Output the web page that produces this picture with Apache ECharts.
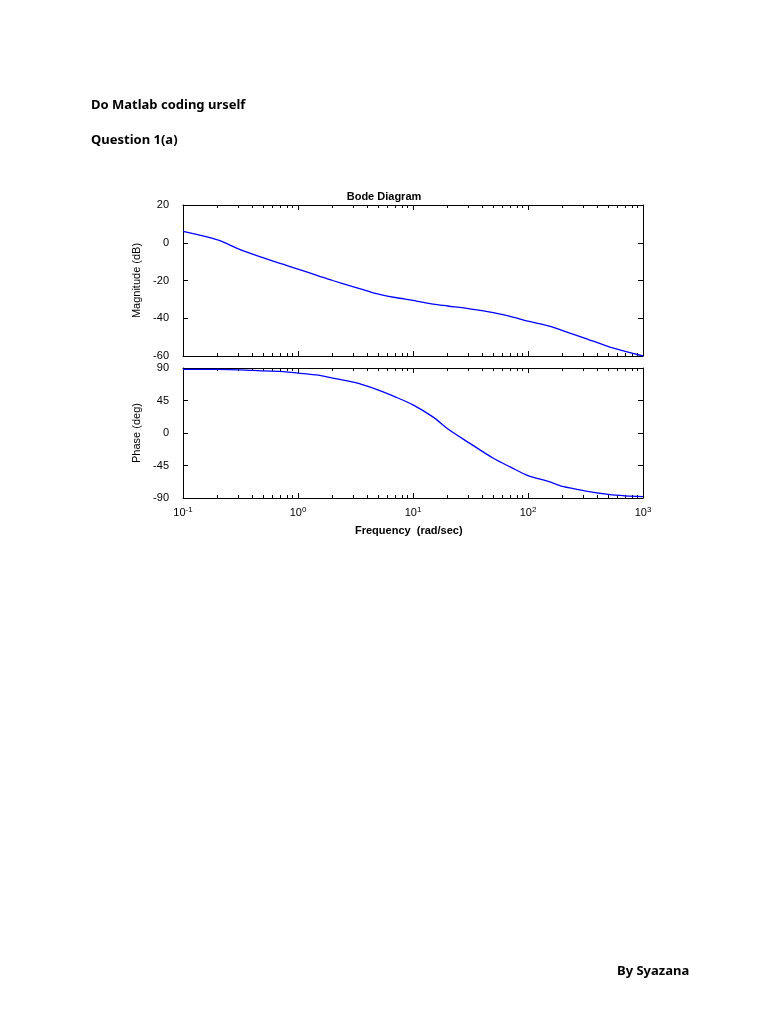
<!DOCTYPE html>
<html>
<head>
<meta charset="utf-8"/>
<style>
html,body{margin:0;padding:0;background:#fff;}
#chart{width:768px;height:1024px;}
</style>
</head>
<body>
<div id="chart"></div>
<script src="https://cdn.jsdelivr.net/npm/echarts@6/dist/echarts.min.js"></script>
<script>
// frequencies (rad/sec)
var freq = [0.1, 0.2, 0.31, 0.5, 0.75, 1, 1.5, 2, 3.1, 4.5, 7, 10, 15, 20, 31, 50, 70, 100, 150, 200, 310, 500, 700, 1000];
var magDb = [6, 1.5, -3.5, -8, -11.5, -14, -17.5, -20, -23.5, -26.5, -29, -30.5, -32.5, -33.5, -35, -37, -39, -41.5, -44, -46.5, -50.5, -55, -57.5, -60];
var phaseDeg = [88, 88, 87.5, 86, 85, 83, 80, 76, 70, 62, 50, 39, 22, 6, -14, -35, -47, -59, -67, -74, -80, -85, -87, -88];
var magTicks = [-60, -40, -20, 0, 20];
var phaseTicks = [-90, -45, 0, 45, 90];

var txt = {color: '#000', fontFamily: 'Liberation Sans', fontSize: 11};
function pairs(ys) { return freq.map(function (f, i) { return [f, ys[i]]; }); }
function xAx(grid, pos, showLabel) {
  return {
    type: 'log', logBase: 10, min: 0.1, max: 1000, gridIndex: grid, position: pos,
    axisLine: {onZero: false, lineStyle: {color: '#000'}},
    axisTick: {inside: true, length: 5, lineStyle: {color: '#000'}},
    minorTick: {show: true, splitNumber: 9, length: 3, lineStyle: {color: '#000'}},
    splitLine: {show: false},
    axisLabel: {show: showLabel, margin: 8, formatter: function (v) {
      return '{b|10}{s|' + Math.round(Math.log10(v)) + '}';
    }, rich: {b: {fontSize: 11, fontFamily: 'Liberation Sans', color: '#000'}, s: {fontSize: 8, fontFamily: 'Liberation Sans', color: '#000', verticalAlign: 'top', padding: [0, 0, 6, 0]}}}
  };
}
function yAx(grid, pos, lo, hi, step, name, showLabel) {
  return {
    type: 'value', min: lo, max: hi, interval: step, gridIndex: grid, position: pos,
    name: showLabel ? name : '', nameLocation: 'middle', nameGap: 36,
    nameTextStyle: {color: '#000', fontFamily: 'Liberation Sans', fontSize: 11},
    axisLine: {show: true, lineStyle: {color: '#000'}},
    axisTick: {inside: true, length: 5, lineStyle: {color: '#000'}},
    splitLine: {show: false},
    axisLabel: Object.assign({show: showLabel, margin: 14}, txt)
  };
}
var chart = echarts.init(document.getElementById('chart'));
chart.setOption({
  animation: false,
  backgroundColor: '#fff',
  title: [
    {text: 'Do Matlab coding urself', left: 86, top: 94, textStyle: {fontFamily: 'Noto Sans', fontSize: 13, fontWeight: 'bold', color: '#000'}},
    {text: 'Question 1(a)', left: 86, top: 129, textStyle: {fontFamily: 'Noto Sans', fontSize: 13, fontWeight: 'bold', color: '#000'}},
    {text: 'Bode Diagram', left: 'center', top: 186, textStyle: {fontFamily: 'Liberation Sans', fontSize: 11, fontWeight: 'bold', color: '#000'}},
    {text: 'By Syazana', left: 612, top: 960, textStyle: {fontFamily: 'Noto Sans', fontSize: 13, fontWeight: 'bold', color: '#000'}}
  ],
  graphic: [{type: 'text', left: 355, top: 525, style: {text: 'Frequency  (rad/sec)', font: 'bold 11px Liberation Sans', fill: '#000'}}],
  grid: [
    {left: 183, top: 205, width: 460, height: 151},
    {left: 183, top: 368, width: 460, height: 130}
  ],
  xAxis: [xAx(0, 'bottom', false), xAx(0, 'top', false), xAx(1, 'bottom', true), xAx(1, 'top', false)],
  yAxis: [
    yAx(0, 'left', -60, 20, 20, 'Magnitude (dB)', true), yAx(0, 'right', -60, 20, 20, '', false),
    yAx(1, 'left', -90, 90, 45, 'Phase (deg)', true), yAx(1, 'right', -90, 90, 45, '', false)
  ],
  series: [
    {type: 'line', xAxisIndex: 0, yAxisIndex: 0, data: pairs(magDb), showSymbol: false, smooth: 0.3, lineStyle: {color: '#0000ff', width: 1.3}},
    {type: 'line', xAxisIndex: 2, yAxisIndex: 2, data: pairs(phaseDeg), showSymbol: false, smooth: 0.3, lineStyle: {color: '#0000ff', width: 1.3}}
  ]
});
</script>
</body>
</html>
